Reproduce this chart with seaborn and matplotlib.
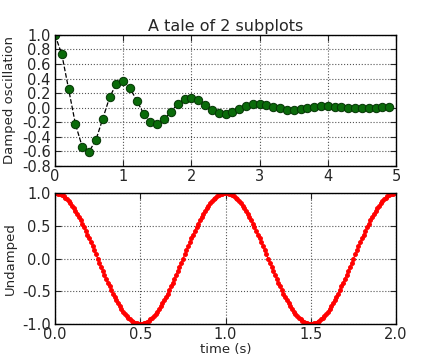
import numpy as np
import matplotlib
matplotlib.use("Agg")
import matplotlib.pyplot as plt
from matplotlib.ticker import FormatStrFormatter
import seaborn as sns

# Top panel: damped oscillation samples
damped = [1.000, 0.732, 0.253, -0.229, -0.542, -0.607, -0.444, -0.154, 0.139, 0.329,
          0.368, 0.269, 0.093, -0.084, -0.200, -0.223, -0.163, -0.057, 0.051, 0.121,
          0.135, 0.099, 0.034, -0.031, -0.073, -0.082, -0.060, -0.021, 0.019, 0.045,
          0.050, 0.036, 0.013, -0.011, -0.027, -0.030, -0.022, -0.008, 0.007, 0.016,
          0.018, 0.013, 0.005, -0.004, -0.010, -0.011, -0.008, -0.003, 0.003, 0.006]
t_top = np.arange(len(damped)) * 0.1

# Bottom panel: undamped oscillation samples
undamped = [1.000, 0.998, 0.992, 0.982, 0.969, 0.951, 0.930, 0.905, 0.876, 0.844,
         0.809, 0.771, 0.729, 0.685, 0.637, 0.588, 0.536, 0.482, 0.426, 0.368,
         0.309, 0.249, 0.187, 0.125, 0.063, 0.000, -0.063, -0.125, -0.187, -0.249,
         -0.309, -0.368, -0.426, -0.482, -0.536, -0.588, -0.637, -0.685, -0.729, -0.771,
         -0.809, -0.844, -0.876, -0.905, -0.930, -0.951, -0.969, -0.982, -0.992, -0.998,
         -1.000, -0.998, -0.992, -0.982, -0.969, -0.951, -0.930, -0.905, -0.876, -0.844,
         -0.809, -0.771, -0.729, -0.685, -0.637, -0.588, -0.536, -0.482, -0.426, -0.368,
         -0.309, -0.249, -0.187, -0.125, -0.063, 0.000, 0.063, 0.125, 0.187, 0.249,
         0.309, 0.368, 0.426, 0.482, 0.536, 0.588, 0.637, 0.685, 0.729, 0.771,
         0.809, 0.844, 0.876, 0.905, 0.930, 0.951, 0.969, 0.982, 0.992, 0.998,
         1.000, 0.998, 0.992, 0.982, 0.969, 0.951, 0.930, 0.905, 0.876, 0.844,
         0.809, 0.771, 0.729, 0.685, 0.637, 0.588, 0.536, 0.482, 0.426, 0.368,
         0.309, 0.249, 0.187, 0.125, 0.063, 0.000, -0.063, -0.125, -0.187, -0.249,
         -0.309, -0.368, -0.426, -0.482, -0.536, -0.588, -0.637, -0.685, -0.729, -0.771,
         -0.809, -0.844, -0.876, -0.905, -0.930, -0.951, -0.969, -0.982, -0.992, -0.998,
         -1.000, -0.998, -0.992, -0.982, -0.969, -0.951, -0.930, -0.905, -0.876, -0.844,
         -0.809, -0.771, -0.729, -0.685, -0.637, -0.588, -0.536, -0.482, -0.426, -0.368,
         -0.309, -0.249, -0.187, -0.125, -0.063, 0.000, 0.063, 0.125, 0.187, 0.249,
         0.309, 0.368, 0.426, 0.482, 0.536, 0.588, 0.637, 0.685, 0.729, 0.771,
         0.809, 0.844, 0.876, 0.905, 0.930, 0.951, 0.969, 0.982, 0.992, 0.998]
t_bot = np.arange(len(undamped)) * 0.01

top_yticks = [-0.8, -0.6, -0.4, -0.2, 0.0, 0.2, 0.4, 0.6, 0.8, 1.0]
top_xticks = [0, 1, 2, 3, 4, 5]
bot_yticks = [-1.0, -0.5, 0.0, 0.5, 1.0]
bot_xticks = [0.0, 0.5, 1.0, 1.5, 2.0]

sns.set_style("ticks")
plt.rcParams.update({
    "font.family": ["DejaVu Sans"],
    "xtick.direction": "in", "ytick.direction": "in",
    "xtick.top": True, "ytick.right": True,
    "xtick.major.size": 4, "ytick.major.size": 4,
    "xtick.major.pad": 2.5, "ytick.major.pad": 3,
    "axes.linewidth": 1.0, "axes.edgecolor": "black",
    "xtick.labelsize": 10.5, "ytick.labelsize": 10.5,
    "axes.unicode_minus": True,
})

fig, (ax1, ax2) = plt.subplots(2, 1, figsize=(4.4, 3.6), dpi=100)
fig.subplots_adjust(left=0.125, right=0.9, top=0.903, bottom=0.1, hspace=0.21)

sns.lineplot(x=t_top, y=damped, ax=ax1, sort=False, estimator=None,
             color="black", linestyle="--", linewidth=0.9, marker="o",
             markersize=6, markerfacecolor="#0a6b0a", markeredgecolor="#063806")
ax1.set_xlim(0, 5)
ax1.set_ylim(-0.8, 1.0)
ax1.set_xticks(top_xticks)
ax1.set_yticks(top_yticks)
ax1.yaxis.set_major_formatter(FormatStrFormatter("%.1f"))
ax1.xaxis.set_major_formatter(FormatStrFormatter("%d"))
ax1.set_title("A tale of 2 subplots", fontsize=11.5, pad=3)
ax1.set_ylabel("Damped oscillation", fontsize=9.5)
ax1.grid(True, linestyle=":", color="#555555", linewidth=0.8)

sns.lineplot(x=t_bot, y=undamped, ax=ax2, sort=False, estimator=None,
             color="red", linestyle="-", linewidth=0.8, marker=".",
             markersize=5.5, markeredgecolor="red")
ax2.set_xlim(0, 2)
ax2.set_ylim(-1, 1)
ax2.set_xticks(bot_xticks)
ax2.set_yticks(bot_yticks)
ax2.yaxis.set_major_formatter(FormatStrFormatter("%.1f"))
ax2.xaxis.set_major_formatter(FormatStrFormatter("%.1f"))
ax2.set_xlabel("time (s)", fontsize=9.5, labelpad=0.5)
ax2.set_ylabel("Undamped", fontsize=9.5)
ax2.grid(True, linestyle=":", color="#555555", linewidth=0.8)

for ax in (ax1, ax2):
    for s in ax.spines.values():
        s.set_visible(True)
        s.set_color("black")

fig.savefig("out.png", dpi=100)
